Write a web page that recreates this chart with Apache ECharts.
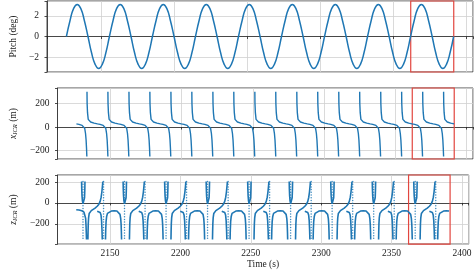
<!DOCTYPE html>
<html><head><meta charset="utf-8">
<script src="https://cdn.jsdelivr.net/npm/echarts@6/dist/echarts.min.js"></script>
<style>html,body{margin:0;padding:0;background:#fff}#c{width:474px;height:270px}</style>
</head><body><div id="c"></div>
<script>
// ---------- values ----------
const tStart = 2126.0, tEnd = 2391.5;
const xTicks = [2150, 2200, 2250, 2300, 2350, 2400];
const pitchTicks = [-2, 0, 2];
const icrTicks = [-200, 0, 200];
const highlight = [2362.1, 2391.6];

// pitch extrema (s)
const peakTimes   = [2133.4, 2162.9, 2192.4, 2221.9, 2251.4, 2280.9, 2310.4, 2339.9, 2369.4];
const troughTimes = [2118.6, 2148.1, 2177.6, 2207.1, 2236.6, 2266.1, 2295.6, 2325.1, 2354.6, 2384.1];

// pitch (deg) read at offsets from each peak
const pitchDt  = [-7.4, -4.9, -2.5, 0, 2.5, 4.9, 7.4, 9.8, 12.3, 14.75, 17.2, 19.7];
const pitchVal = [0, 1.55, 2.69, 3.1, 2.69, 1.55, 0, -1.55, -2.69, -3.1, -2.69, -1.55];
const pitchEnd = [2391.5, 0];

// x_ICR (m) after each pole (pitch extremum)
const xIcrDt  = [0.03, 0.12, 0.4, 0.9, 1.6, 2.6, 5, 7.4, 9.2, 11.4, 12.6, 13.2, 13.8, 14.2, 14.5, 14.72];
const xIcrVal = [300, 200, 122, 65, 52, 43, 33, 27, 23, 14, 5, -10, -55, -110, -180, -250];

// z_ICR (m): start branch
const zStartT = [2126, 2128, 2130, 2131.5, 2132.3, 2132.7, 2133.0, 2133.3];
const zStartV = [-65, -68, -75, -88, -105, -150, -230, -350];
// z_ICR shapes at offsets from each peak
const zUDt  = [-3.6, -3.5, -3.3, -3.0, -2.6, -2.2, -1.8, -1.5, -1.3, -1.2];
const zUVal = [205, 140, 70, 20, -8, -15, -5, 50, 130, 205];
const zSDt  = [0.9, 1.0, 1.15, 1.4, 1.8, 2.4, 3.3, 4.5, 6, 7.5, 8.7, 9.6, 10.3, 10.8, 11.2, 11.5];
const zSVal = [-350, -280, -200, -140, -102, -84, -74, -64, -50, -32, -12, 15, 55, 105, 160, 205];
const zLDt  = [7.5, 8.7, 9.6, 10.2, 10.6, 10.9, 11.1];
const zLVal = [-80, -82, -92, -115, -170, -260, -350];
const zNDt  = [13.4, 13.55, 13.8, 14.2, 14.8, 15.8, 17.5, 19.5, 21.5, 22.8, 23.7, 24.2, 24.5, 24.7, 24.8];
const zNVal = [-350, -260, -180, -130, -100, -86, -78, -75, -78, -88, -110, -150, -210, -290, -350];
// sparse dotted columns
const zColDt = [-2.6, 12.0];
const zColVal = [205, 180, 154, 128, 102, 76, 50, 24, -2, -28, -54, -80, -106, -132,
                 -158, -184, -210, -236, -262, -288, -314, -340];

// ---------- build tables ----------
const inRange = t => t >= tStart - 0.01 && t <= tEnd + 0.01;
function place(anchor, dts, vals) {
  return dts.map((d, i) => [anchor + d, vals[i]]).filter(p => inRange(p[0]));
}
const GAP = ['-', '-'];

const pitchData = [];
peakTimes.forEach(p => place(p, pitchDt, pitchVal).forEach(q => pitchData.push(q)));
pitchData.push(pitchEnd);

const poles = peakTimes.concat(troughTimes).sort((a, b) => a - b);
const xIcrData = [];
poles.forEach(a => { const s = place(a, xIcrDt, xIcrVal); if (s.length) { s.forEach(q => xIcrData.push(q)); xIcrData.push(GAP); } });

const zData = [];
zStartT.forEach((t, i) => zData.push([t, zStartV[i]])); zData.push(GAP);
peakTimes.forEach(p => {
  [[zUDt, zUVal], [zSDt, zSVal], [zLDt, zLVal], [zNDt, zNVal]].forEach(([d, v]) => {
    const s = place(p, d, v); if (s.length) { s.forEach(q => zData.push(q)); zData.push(GAP); }
  });
});
const zDots = [];
peakTimes.forEach(p => zColDt.forEach(d => { const t = p + d; if (inRange(t)) zColVal.forEach(v => zDots.push([t, v])); }));

// ---------- chart ----------
const font = 'Liberation Serif';
const blue = '#1f77b4';
const ink = '#222';
function fmt(v, ticks) { return ticks.indexOf(Math.round(v * 1000) / 1000) < 0 ? '' : (v < 0 ? '\u2212' + Math.abs(v) : String(v)); }

const gridTops = [1, 88, 175], gridH = [71, 71, 72];
const grids = gridTops.map((t, i) => ({ left: 32, right: 1, top: t, height: gridH[i], show: true,
  borderColor: ink, borderWidth: 0.8, backgroundColor: 'transparent' }));

const xAxes = [0, 1, 2].map(i => ({
  type: 'value', gridIndex: i, min: 2112.7, max: 2404.8, splitNumber: 6,
  axisLine: { show: true, lineStyle: { color: ink, width: 0.8 } },
  axisTick: { show: true, length: 2.5, lineStyle: { color: ink, width: 0.8 } },
  axisLabel: { show: i === 2, margin: 4, fontFamily: font, fontSize: 9.5, color: ink, formatter: v => fmt(v, xTicks) },
  splitLine: { show: true, lineStyle: { color: '#d0d0d0', width: 0.8 } },
  name: i === 2 ? 'Time (s)' : '', nameLocation: 'middle', nameGap: 14,
  nameTextStyle: { fontFamily: font, fontSize: 9.5, color: ink }
}));

const subRich = {
  it: { fontFamily: font, fontSize: 9.5, fontStyle: 'italic', color: ink, lineHeight: 12 },
  sub: { fontFamily: font, fontSize: 6.5, fontStyle: 'italic', color: ink, verticalAlign: 'bottom', lineHeight: 12 },
  n: { fontFamily: font, fontSize: 9.5, color: ink, lineHeight: 12 }
};
function yAx(i, min, max, ticks, name, gap) {
  return {
    type: 'value', gridIndex: i, min: min, max: max, splitNumber: 3,
    axisLine: { show: true, lineStyle: { color: ink, width: 0.8 } },
    axisTick: { show: true, length: 2.5, lineStyle: { color: ink, width: 0.8 } },
    axisLabel: { margin: 8, fontFamily: font, fontSize: 9.5, color: ink, formatter: v => fmt(v, ticks) },
    splitLine: { show: true, lineStyle: { color: '#d0d0d0', width: 0.8 } },
    name: name, nameLocation: 'middle', nameGap: gap, nameRotate: 90,
    nameTextStyle: { fontFamily: font, fontSize: 9.5, color: ink, rich: subRich }
  };
}
const yAxes = [
  yAx(0, -3.43, 3.43, pitchTicks, 'Pitch (deg)', 13),
  yAx(1, -272, 332, icrTicks, '{it|x}{sub|ICR}{n| (m)}', 19),
  yAx(2, -395, 268, icrTicks, '{it|z}{sub|ICR}{n| (m)}', 19)
];

const mark = {
  silent: true,
  itemStyle: { color: 'rgba(0,0,0,0)', borderColor: '#e2463f', borderWidth: 1.2 },
  data: [[{ xAxis: highlight[0] }, { xAxis: highlight[1] }]]
};

const chart = echarts.init(document.getElementById('c'), null, { renderer: 'canvas' });
chart.setOption({
  animation: false,
  grid: grids, xAxis: xAxes, yAxis: yAxes,
  series: [
    { type: 'line', xAxisIndex: 0, yAxisIndex: 0, data: pitchData, smooth: 0.5, showSymbol: false,
      lineStyle: { color: blue, width: 1.5 }, markArea: mark },
    { type: 'line', xAxisIndex: 1, yAxisIndex: 1, data: xIcrData, showSymbol: false, connectNulls: false,
      lineStyle: { color: blue, width: 1.4 }, markArea: mark },
    { type: 'line', xAxisIndex: 2, yAxisIndex: 2, data: zData, showSymbol: false, connectNulls: false,
      lineStyle: { color: blue, width: 1.6 }, markArea: mark },
    { type: 'scatter', xAxisIndex: 2, yAxisIndex: 2, data: zDots, symbolSize: 1.5,
      itemStyle: { color: blue, opacity: 0.85 } }
  ]
});
</script></body></html>
